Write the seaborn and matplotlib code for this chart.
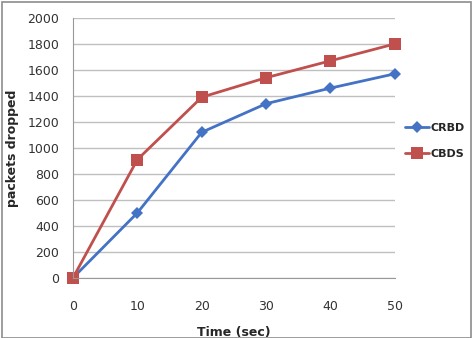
import matplotlib
matplotlib.use("Agg")
import matplotlib.pyplot as plt
import seaborn as sns
import pandas as pd

# values
time_sec = [0, 10, 20, 30, 40, 50]
crbd = [0, 500, 1120, 1340, 1460, 1570]
cbds = [0, 910, 1390, 1540, 1670, 1800]

df = pd.DataFrame({
    "time": time_sec * 2,
    "dropped": crbd + cbds,
    "scheme": ["CRBD"] * len(crbd) + ["CBDS"] * len(cbds),
})

sns.set_style("white")
fig = plt.figure(figsize=(4.74, 3.38), dpi=100)
ax = fig.add_axes([0.154, 0.178, 0.679, 0.769])

sns.lineplot(data=df, x="time", y="dropped", hue="scheme", style="scheme",
             markers={"CRBD": "D", "CBDS": "s"}, dashes=False,
             palette={"CRBD": "#4472C4", "CBDS": "#C0504D"},
             markersize=6, linewidth=2, markeredgewidth=0, ax=ax)
for ln in ax.lines:
    if ln.get_marker() == "s":
        ln.set_markersize(8)
    ln.set_clip_on(False)

ax.set_xlim(0, 50)
ax.set_ylim(0, 2000)
ax.set_xticks(time_sec)
ax.set_yticks(range(0, 2001, 200))
ax.yaxis.grid(True, color="#bfbfbf", linewidth=1)
ax.set_axisbelow(True)
for side in ["top", "right"]:
    ax.spines[side].set_visible(False)
for side in ["left", "bottom"]:
    ax.spines[side].set_color("#999999")
ax.tick_params(axis="both", length=4, color="#999999", labelsize=9,
               labelcolor="#333333", direction="out")
ax.tick_params(axis="x", pad=12)
ax.tick_params(axis="y", pad=6)

ax.set_xlabel("Time (sec)", fontsize=9, fontweight="bold", labelpad=9)
ax.set_ylabel("packets dropped", fontsize=9, fontweight="bold", labelpad=6)

leg = ax.legend(loc="center left", bbox_to_anchor=(1.0, 0.527), frameon=False,
                handlelength=2.2, handletextpad=0.1, labelspacing=1.5,
                prop={"weight": "bold", "size": 8})

fig.patches.append(plt.Rectangle((0.004, 0.0), 0.99, 0.995, transform=fig.transFigure,
                                 fill=False, edgecolor="#8c8c8c", linewidth=1.2))
fig.savefig("out.png", dpi=100)
